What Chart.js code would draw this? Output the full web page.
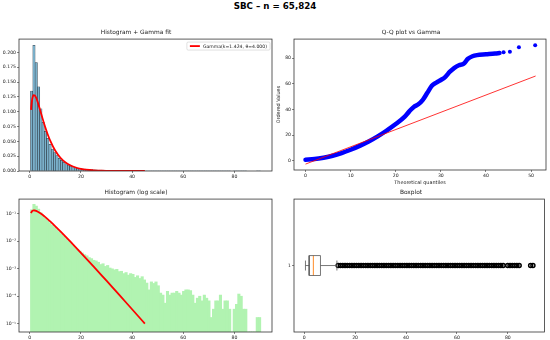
<!DOCTYPE html>
<html>
<head>
<meta charset="utf-8">
<script src="https://cdn.jsdelivr.net/npm/chart.js@4.4.0/dist/chart.umd.min.js"></script>
<style>
  html, body { margin: 0; padding: 0; background: #fff; }
  body { width: 550px; height: 340px; position: relative; overflow: hidden; font-family: 'DejaVu Sans', sans-serif; }
  #sup { position: absolute; left: 0; top: 1px; width: 550px; text-align: center; font: bold 8.7px 'DejaVu Sans'; color: #000; }
  canvas { position: absolute; }
</style>
</head>
<body>
<div id="sup">SBC – n = 65,824</div>
<canvas id="c1" width="275" height="160" style="left:0px;top:25px"></canvas>
<canvas id="c2" width="275" height="162" style="left:275px;top:25px"></canvas>
<canvas id="c3" width="275" height="155" style="left:0px;top:185px"></canvas>
<canvas id="c4" width="275" height="155" style="left:275px;top:185px"></canvas>
<script>
// ---------------- DATA ----------------
const binStart = 0.3;
const binWidth = 0.9;
const histDensity = [
  0.135, 0.212, 0.183, 0.142, 0.105, 0.082, 0.067, 0.055, 0.045, 0.037,
  0.031, 0.026, 0.0215, 0.0178, 0.0147, 0.0122, 0.0101, 0.0084, 0.0070, 0.0059,
  0.0050, 0.0043, 0.0037, 0.0032, 0.0029, 0.0025, 0.0023, 0.0020, 0.0019, 0.0017,
  0.0014, 0.0015, 0.0012, 0.0013, 0.00105, 0.00098, 0.0009, 0.00094, 0.00078, 0.0008,
  0.00066, 0.00072, 0.00058, 0.00066, 0.00062, 0.00048, 0.00055, 0.00044, 0.00051, 0.00039,
  0.0003, 0.00017, 0.00033, 0.00029, 0.00033, 0.00024, 0.00013, 0.00011, 0.000056, 0.00015,
  0.00011, 0.00013, 0.00013, 0.00015, 0.00013, 0.00011, 0.00015, 0.00017, 0.00017, 0.00016,
  0.00011, 0.000056, 0.000085, 0.0001, 0.000068, 0.00011, 0.000085, 0.000068, 0.000017, 0.000034,
  0.000068, 0.000068, 0.00011, 0.000034, 0.000068, 0.000068, 0.000034, 0, 0.000034, 0.000051,
  0.00012, 0.0001, 0.000034, 0.000034, 0, 0, 0, 0, 0.000017, 0.000017
];
const binCenters = histDensity.map((_, i) => +(binStart + binWidth * (i + 0.5)).toFixed(2));

const gammaLabel = 'Gamma(k=1.424, θ=4.000)';
const gammaX = [0.5, 0.7, 1, 1.5, 2, 2.5, 3, 4, 5, 6, 7, 8, 10, 12, 14, 16, 18, 20, 22, 25, 28, 30, 32, 35, 38, 40, 42, 45];
const gammaY = [0.1031, 0.1131, 0.1220, 0.1279, 0.1275, 0.1237, 0.1179, 0.1038, 0.0888, 0.0747, 0.0621, 0.0512,
  0.03414, 0.02238, 0.01449, 0.009299, 0.005929, 0.003760, 0.002375, 0.0011843, 0.00058692, 0.00036655,
  0.00022848, 0.00011212, 0.000054835, 0.000033993, 0.000021048, 0.000010237];

const qqTheoX = [0, 2, 4, 6, 8, 10, 12, 14, 16, 18, 20, 22, 23, 24, 25, 26, 27, 28, 29, 30, 31, 32, 33, 34, 35, 36, 37, 38, 40, 42, 43];
const qqOrderedY = [0.8, 1.3, 2.4, 3.9, 6.0, 8.6, 11.6, 15.0, 19.0, 23.6, 28.6, 34.5, 38.5, 42.0, 44.0, 47.5, 53.0, 58.5, 61.0, 63.0, 65.5, 69.5, 72.5, 74.5, 75.5, 79.5, 81.5, 82.4, 83.0, 83.6, 84.0];
const qqTailX = [43.9, 45.3, 47.3, 50.9];
const qqTailY = [84.6, 85.0, 88.5, 90.0];
const qqLineX = [0, 51.0];
const qqLineY = [-2.6, 66.1];

const boxWhiskerLow = 0.5;
const boxQ1 = 1.95;
const boxMedian = 3.6;
const boxQ3 = 6.4;
const boxWhiskerHigh = 12.85;
const boxOutliers = binCenters.filter((c, i) => c > boxWhiskerHigh && histDensity[i] > 0);

const histXTicks = [0, 20, 40, 60, 80];
const histYTicks = [0, 0.025, 0.05, 0.075, 0.1, 0.125, 0.15, 0.175, 0.2];
const logYTicks = [1e-5, 1e-4, 1e-3, 1e-2, 1e-1];
const logYLabels = ['10⁻⁵', '10⁻⁴', '10⁻³', '10⁻²', '10⁻¹'];
const qqXTicks = [0, 10, 20, 30, 40, 50];
const qqYTicks = [0, 20, 40, 60, 80];
const boxXTicks = [0, 20, 40, 60, 80];
const boxYTicks = [1];

// ---------------- STYLE / HELPERS ----------------
Chart.defaults.font.family = "'DejaVu Sans', sans-serif";
Chart.defaults.color = '#222';
const TICK_FONT = 4.6, LABEL_FONT = 4.9, TITLE_FONT = 5.9;

const framePlugin = {
  id: 'frame',
  afterDatasetsDraw(chart) {
    const { ctx, chartArea: a } = chart;
    ctx.save();
    ctx.strokeStyle = '#333';
    ctx.lineWidth = 0.8;
    ctx.strokeRect(a.left, a.top, a.right - a.left, a.bottom - a.top);
    ctx.restore();
  }
};

function axis(opts) {
  const { type = 'linear', min, max, ticks, size, horizontal, fmt, title } = opts;
  const a = {
    type, min, max, offset: false,
    afterBuildTicks: s => { s.ticks = ticks.map(v => ({ value: v })); },
    afterFit: s => { if (horizontal) s.height = size; else s.width = size; },
    grid: { display: true, offset: false, drawOnChartArea: false, drawTicks: true, tickLength: 2, color: '#333', lineWidth: 0.6 },
    border: { display: false },
    ticks: { font: { size: TICK_FONT }, color: '#222', padding: 1, maxRotation: 0, minRotation: 0, autoSkip: false, callback: fmt }
  };
  if (title) a.title = { display: true, text: title, font: { size: LABEL_FONT }, color: '#222', padding: { top: 1, bottom: 1 } };
  return a;
}

function titleOpt(text) {
  return { display: true, text, font: { size: TITLE_FONT, weight: 'normal' }, color: '#222', padding: { top: 4, bottom: 3 } };
}

const common = {
  responsive: false, animation: false, devicePixelRatio: 1,
  layout: { padding: { left: 0, right: 3, top: 0, bottom: 0 } },
  events: []
};

// ---------------- PANEL 1 : histogram + gamma ----------------
const legendPlugin = {
  id: 'innerLegend',
  afterDraw(chart) {
    const { ctx, chartArea: a } = chart;
    const ds = chart.data.datasets[0];
    ctx.save();
    ctx.font = TICK_FONT + "px 'DejaVu Sans'";
    const tw = ctx.measureText(ds.label).width;
    const w = 3 + 10 + 3 + tw + 3, h = 8;
    const x = a.right - 2 - w, y = a.top + 3;
    ctx.fillStyle = 'rgba(255,255,255,0.85)';
    ctx.strokeStyle = '#cccccc';
    ctx.lineWidth = 0.6;
    ctx.beginPath();
    ctx.roundRect(x, y, w, h, 1.2);
    ctx.fill(); ctx.stroke();
    ctx.strokeStyle = ds.borderColor;
    ctx.lineWidth = 1.8;
    ctx.beginPath();
    ctx.moveTo(x + 3, y + h / 2); ctx.lineTo(x + 13, y + h / 2);
    ctx.stroke();
    ctx.fillStyle = '#222';
    ctx.textBaseline = 'middle';
    ctx.fillText(ds.label, x + 16, y + h / 2 + 0.3);
    ctx.restore();
  }
};

new Chart(document.getElementById('c1'), {
  type: 'bar',
  data: {
    datasets: [
      {
        type: 'line', label: gammaLabel, order: 0,
        data: gammaX.map((x, i) => ({ x, y: gammaY[i] })),
        borderColor: '#ff0000', borderWidth: 1.8, pointRadius: 0, fill: false,
        cubicInterpolationMode: 'monotone'
      },
      {
        type: 'bar', label: 'hist', order: 1,
        data: binCenters.map((x, i) => ({ x, y: histDensity[i] })),
        backgroundColor: 'rgb(122,176,202)', borderColor: 'rgba(10,20,30,0.85)', borderWidth: 0.5,
        barPercentage: 1, categoryPercentage: 1, grouped: false
      }
    ]
  },
  options: Object.assign({}, common, {
    plugins: { legend: { display: false }, tooltip: { enabled: false }, title: titleOpt('Histogram + Gamma fit') },
    scales: {
      x: axis({ min: -4.2, max: 94.7, ticks: histXTicks, size: 14, horizontal: true, fmt: v => String(v) }),
      y: axis({ min: 0, max: 0.2226, ticks: histYTicks, size: 19, horizontal: false, fmt: v => v.toFixed(3) })
    }
  }),
  plugins: [framePlugin, legendPlugin]
});

// ---------------- PANEL 2 : Q-Q plot ----------------
new Chart(document.getElementById('c2'), {
  type: 'scatter',
  data: {
    datasets: [
      {
        label: 'fit line', showLine: true, order: 0,
        data: qqLineX.map((x, i) => ({ x, y: qqLineY[i] })),
        borderColor: 'rgba(255,0,0,0.8)', borderWidth: 1, pointRadius: 0
      },
      {
        label: 'ordered', showLine: true, order: 1,
        data: qqTheoX.map((x, i) => ({ x, y: qqOrderedY[i] })),
        borderColor: '#0000ff', borderWidth: 4.5, pointRadius: 0,
        borderCapStyle: 'round', borderJoinStyle: 'round', cubicInterpolationMode: 'monotone'
      },
      {
        label: 'ordered tail', showLine: false, order: 1,
        data: qqTailX.map((x, i) => ({ x, y: qqTailY[i] })),
        backgroundColor: '#0000ff', borderColor: '#0000ff', borderWidth: 0, pointRadius: 2
      }
    ]
  },
  options: Object.assign({}, common, {
    plugins: { legend: { display: false }, tooltip: { enabled: false }, title: titleOpt('Q-Q plot vs Gamma') },
    scales: {
      x: axis({ min: -2.55, max: 53.3, ticks: qqXTicks, size: 17, horizontal: true, fmt: v => String(v), title: 'Theoretical quantiles' }),
      y: axis({ min: -7.2, max: 94.9, ticks: qqYTicks, size: 19, horizontal: false, fmt: v => String(v), title: 'Ordered Values' })
    }
  }),
  plugins: [framePlugin]
});

// ---------------- PANEL 3 : log histogram ----------------
new Chart(document.getElementById('c3'), {
  type: 'bar',
  data: {
    datasets: [
      {
        type: 'line', label: gammaLabel, order: 0,
        data: gammaX.map((x, i) => ({ x, y: gammaY[i] })),
        borderColor: '#ff0000', borderWidth: 1.8, pointRadius: 0, fill: false,
        cubicInterpolationMode: 'monotone'
      },
      {
        type: 'bar', label: 'hist', order: 1,
        data: binCenters.map((x, i) => ({ x, y: histDensity[i] })),
        backgroundColor: 'rgb(177,243,177)', borderWidth: 0, inflateAmount: 0.4,
        barPercentage: 1, categoryPercentage: 1, grouped: false
      }
    ]
  },
  options: Object.assign({}, common, {
    plugins: { legend: { display: false }, tooltip: { enabled: false }, title: titleOpt('Histogram (log scale)') },
    scales: {
      x: axis({ min: -4.2, max: 94.7, ticks: histXTicks, size: 8, horizontal: true, fmt: v => String(v) }),
      y: axis({ type: 'logarithmic', min: 5.1e-6, max: 0.33, ticks: logYTicks, size: 19, horizontal: false,
               fmt: (v, i) => logYLabels[i] })
    }
  }),
  plugins: [framePlugin]
});

// ---------------- PANEL 4 : boxplot ----------------
const BOX_HALF = 0.075, CAP_HALF = 0.0375;
const seg = (x1, y1, x2, y2) => [{ x: x1, y: y1 }, { x: x2, y: y2 }];
const boxLine = { showLine: true, pointRadius: 0, borderColor: '#555', borderWidth: 0.8, fill: false };
new Chart(document.getElementById('c4'), {
  type: 'scatter',
  data: {
    datasets: [
      Object.assign({ label: 'box', data: [
        { x: boxQ1, y: 1 - BOX_HALF }, { x: boxQ3, y: 1 - BOX_HALF }, { x: boxQ3, y: 1 + BOX_HALF },
        { x: boxQ1, y: 1 + BOX_HALF }, { x: boxQ1, y: 1 - BOX_HALF }] }, boxLine),
      { label: 'median', showLine: true, pointRadius: 0, borderColor: '#ff7f0e', borderWidth: 0.9,
        data: seg(boxMedian, 1 - BOX_HALF, boxMedian, 1 + BOX_HALF) },
      Object.assign({ label: 'whisker low', data: seg(boxWhiskerLow, 1, boxQ1, 1) }, boxLine),
      Object.assign({ label: 'whisker high', data: seg(boxQ3, 1, boxWhiskerHigh, 1) }, boxLine),
      Object.assign({ label: 'cap low', data: seg(boxWhiskerLow, 1 - CAP_HALF, boxWhiskerLow, 1 + CAP_HALF) }, boxLine),
      Object.assign({ label: 'cap high', data: seg(boxWhiskerHigh, 1 - CAP_HALF, boxWhiskerHigh, 1 + CAP_HALF) }, boxLine),
      { label: 'outliers', showLine: false, data: boxOutliers.map(x => ({ x, y: 1 })),
        pointRadius: 2.0, borderColor: '#000', borderWidth: 1.5, backgroundColor: 'rgba(0,0,0,0)' }
    ]
  },
  options: Object.assign({}, common, {
    plugins: { legend: { display: false }, tooltip: { enabled: false }, title: titleOpt('Boxplot') },
    scales: {
      x: axis({ min: -4.0, max: 94.4, ticks: boxXTicks, size: 8, horizontal: true, fmt: v => String(v) }),
      y: axis({ min: 0.5, max: 1.5, ticks: boxYTicks, size: 19, horizontal: false, fmt: v => String(v) })
    }
  }),
  plugins: [framePlugin]
});
</script>
</body>
</html>
